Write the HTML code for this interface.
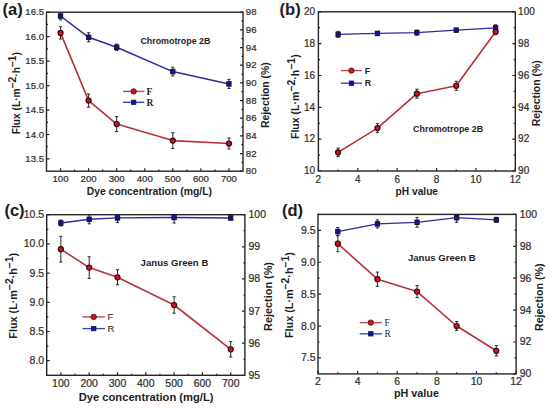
<!DOCTYPE html>
<html><head><meta charset="utf-8"><style>
html,body{margin:0;padding:0;background:#fff;}
body{width:550px;height:409px;overflow:hidden;}
svg{display:block;font-family:"Liberation Sans", sans-serif;}
</style></head><body>
<svg width="550" height="409" viewBox="0 0 550 409">
<rect width="550" height="409" fill="#fff"/>
<path d="M60.54 171.20V168.20M88.61 171.20V168.20M116.68 171.20V168.20M144.75 171.20V168.20M172.82 171.20V168.20M200.89 171.20V168.20M228.96 171.20V168.20M74.57 171.20V169.60M102.64 171.20V169.60M130.71 171.20V169.60M158.79 171.20V169.60M186.86 171.20V169.60M214.93 171.20V169.60M46.50 158.97H49.50M46.50 134.51H49.50M46.50 110.05H49.50M46.50 85.58H49.50M46.50 61.12H49.50M46.50 36.66H49.50M46.50 12.20H49.50M46.50 146.74H48.10M46.50 122.28H48.10M46.50 97.82H48.10M46.50 73.35H48.10M46.50 48.89H48.10M46.50 24.43H48.10M243.00 171.20H240.00M243.00 153.53H240.00M243.00 135.87H240.00M243.00 118.20H240.00M243.00 100.53H240.00M243.00 82.87H240.00M243.00 65.20H240.00M243.00 47.53H240.00M243.00 29.87H240.00M243.00 12.20H240.00M243.00 162.37H241.40M243.00 144.70H241.40M243.00 127.03H241.40M243.00 109.37H241.40M243.00 91.70H241.40M243.00 74.03H241.40M243.00 56.37H241.40M243.00 38.70H241.40M243.00 21.03H241.40" stroke="#262626" stroke-width="1.2" fill="none"/>
<rect x="46.50" y="12.20" width="196.50" height="159.00" fill="none" stroke="#262626" stroke-width="1.4"/>
<text x="60.54" y="182.17" font-size="9.60" text-anchor="middle" fill="#2e2e2e" stroke="#2e2e2e" stroke-width="0.22">100</text>
<text x="88.61" y="182.17" font-size="9.60" text-anchor="middle" fill="#2e2e2e" stroke="#2e2e2e" stroke-width="0.22">200</text>
<text x="116.68" y="182.17" font-size="9.60" text-anchor="middle" fill="#2e2e2e" stroke="#2e2e2e" stroke-width="0.22">300</text>
<text x="144.75" y="182.17" font-size="9.60" text-anchor="middle" fill="#2e2e2e" stroke="#2e2e2e" stroke-width="0.22">400</text>
<text x="172.82" y="182.17" font-size="9.60" text-anchor="middle" fill="#2e2e2e" stroke="#2e2e2e" stroke-width="0.22">500</text>
<text x="200.89" y="182.17" font-size="9.60" text-anchor="middle" fill="#2e2e2e" stroke="#2e2e2e" stroke-width="0.22">600</text>
<text x="228.96" y="182.17" font-size="9.60" text-anchor="middle" fill="#2e2e2e" stroke="#2e2e2e" stroke-width="0.22">700</text>
<text x="44.00" y="162.11" font-size="9.60" text-anchor="end" fill="#2e2e2e" stroke="#2e2e2e" stroke-width="0.22">13.5</text>
<text x="44.00" y="137.64" font-size="9.60" text-anchor="end" fill="#2e2e2e" stroke="#2e2e2e" stroke-width="0.22">14.0</text>
<text x="44.00" y="113.18" font-size="9.60" text-anchor="end" fill="#2e2e2e" stroke="#2e2e2e" stroke-width="0.22">14.5</text>
<text x="44.00" y="88.72" font-size="9.60" text-anchor="end" fill="#2e2e2e" stroke="#2e2e2e" stroke-width="0.22">15.0</text>
<text x="44.00" y="64.26" font-size="9.60" text-anchor="end" fill="#2e2e2e" stroke="#2e2e2e" stroke-width="0.22">15.5</text>
<text x="44.00" y="39.80" font-size="9.60" text-anchor="end" fill="#2e2e2e" stroke="#2e2e2e" stroke-width="0.22">16.0</text>
<text x="44.00" y="15.34" font-size="9.60" text-anchor="end" fill="#2e2e2e" stroke="#2e2e2e" stroke-width="0.22">16.5</text>
<text x="245.80" y="174.34" font-size="9.60" text-anchor="start" fill="#2e2e2e" stroke="#2e2e2e" stroke-width="0.22">80</text>
<text x="245.80" y="156.67" font-size="9.60" text-anchor="start" fill="#2e2e2e" stroke="#2e2e2e" stroke-width="0.22">82</text>
<text x="245.80" y="139.00" font-size="9.60" text-anchor="start" fill="#2e2e2e" stroke="#2e2e2e" stroke-width="0.22">84</text>
<text x="245.80" y="121.34" font-size="9.60" text-anchor="start" fill="#2e2e2e" stroke="#2e2e2e" stroke-width="0.22">86</text>
<text x="245.80" y="103.67" font-size="9.60" text-anchor="start" fill="#2e2e2e" stroke="#2e2e2e" stroke-width="0.22">88</text>
<text x="245.80" y="86.00" font-size="9.60" text-anchor="start" fill="#2e2e2e" stroke="#2e2e2e" stroke-width="0.22">90</text>
<text x="245.80" y="68.34" font-size="9.60" text-anchor="start" fill="#2e2e2e" stroke="#2e2e2e" stroke-width="0.22">92</text>
<text x="245.80" y="50.67" font-size="9.60" text-anchor="start" fill="#2e2e2e" stroke="#2e2e2e" stroke-width="0.22">94</text>
<text x="245.80" y="33.00" font-size="9.60" text-anchor="start" fill="#2e2e2e" stroke="#2e2e2e" stroke-width="0.22">96</text>
<text x="245.80" y="15.34" font-size="9.60" text-anchor="start" fill="#2e2e2e" stroke="#2e2e2e" stroke-width="0.22">98</text>
<clipPath id="clipa"><rect x="46.50" y="12.20" width="196.50" height="159.00"/></clipPath>
<polyline points="60.54,16.00 88.61,37.30 116.68,47.30 172.82,71.60 228.96,83.90" fill="none" stroke="#2e2a9c" stroke-width="1.50" stroke-linejoin="round"/>
<polyline points="60.54,32.90 88.61,100.60 116.68,124.10 172.82,140.60 228.96,143.50" fill="none" stroke="#b83038" stroke-width="1.60" stroke-linejoin="round"/>
<path d="M60.54 12.15V19.85M58.94 12.15H62.14M58.94 19.85H62.14M88.61 32.75V41.85M87.01 32.75H90.21M87.01 41.85H90.21M116.68 44.10V50.50M115.08 44.10H118.28M115.08 50.50H118.28M172.82 67.20V76.00M171.22 67.20H174.42M171.22 76.00H174.42M228.96 79.35V88.45M227.36 79.35H230.56M227.36 88.45H230.56" stroke="#262626" stroke-width="1" fill="none" clip-path="url(#clipa)"/>
<path d="M60.54 26.80V39.00M58.94 26.80H62.14M58.94 39.00H62.14M88.61 94.00V107.20M87.01 94.00H90.21M87.01 107.20H90.21M116.68 116.60V131.60M115.08 116.60H118.28M115.08 131.60H118.28M172.82 132.75V148.45M171.22 132.75H174.42M171.22 148.45H174.42M228.96 138.00V149.00M227.36 138.00H230.56M227.36 149.00H230.56" stroke="#262626" stroke-width="1" fill="none" clip-path="url(#clipa)"/>
<rect x="58.44" y="13.80" width="4.2" height="4.4" fill="#0a10b0" stroke="#1a1a30" stroke-width="1.1"/>
<rect x="86.51" y="35.10" width="4.2" height="4.4" fill="#0a10b0" stroke="#1a1a30" stroke-width="1.1"/>
<rect x="114.58" y="45.10" width="4.2" height="4.4" fill="#0a10b0" stroke="#1a1a30" stroke-width="1.1"/>
<rect x="170.72" y="69.40" width="4.2" height="4.4" fill="#0a10b0" stroke="#1a1a30" stroke-width="1.1"/>
<rect x="226.86" y="81.70" width="4.2" height="4.4" fill="#0a10b0" stroke="#1a1a30" stroke-width="1.1"/>
<circle cx="60.54" cy="32.90" r="2.55" fill="#d8101a" stroke="#2a0c0c" stroke-width="1.15"/>
<circle cx="88.61" cy="100.60" r="2.55" fill="#d8101a" stroke="#2a0c0c" stroke-width="1.15"/>
<circle cx="116.68" cy="124.10" r="2.55" fill="#d8101a" stroke="#2a0c0c" stroke-width="1.15"/>
<circle cx="172.82" cy="140.60" r="2.55" fill="#d8101a" stroke="#2a0c0c" stroke-width="1.15"/>
<circle cx="228.96" cy="143.50" r="2.55" fill="#d8101a" stroke="#2a0c0c" stroke-width="1.15"/>
<path d="M123.00 91.40H144.30" stroke="#c04850" stroke-width="1.4"/>
<path d="M123.00 102.30H144.30" stroke="#4040b0" stroke-width="1.4"/>
<circle cx="133.65" cy="91.40" r="2.7" fill="#d8101a" stroke="#401010" stroke-width="0.8"/>
<rect x="131.45" y="100.10" width="4.4" height="4.4" fill="#0a10b0" stroke="#1a1a40" stroke-width="0.8"/>
<text x="146.40" y="94.84" font-size="9.50" font-family='"Liberation Serif", serif' font-weight="bold" fill="#222">F</text>
<text x="146.40" y="105.73" font-size="9.50" font-family='"Liberation Serif", serif' font-weight="bold" fill="#222">R</text>
<text x="140.40" y="43.70" font-size="8.90" font-weight="bold" fill="#1e1e1e">Chromotrope 2B</text>
<text x="2.50" y="15.10" font-size="16.50" font-weight="bold" fill="#1a1a1a">(a)</text>
<text x="149.30" y="194.50" font-size="10.40" font-weight="bold" text-anchor="middle" fill="#1e1e1e">Dye concentration (mg/L)</text>
<text transform="translate(16.20 93.15) rotate(-90)" x="0" y="3.65" font-size="10.20" font-weight="bold" text-anchor="middle" fill="#1e1e1e">Flux (L·m<tspan dy="-3.80" font-size="10.20">−2</tspan><tspan dy="3.80">·h</tspan><tspan dy="-3.80" font-size="10.20">−1</tspan><tspan dy="3.80">)</tspan></text>
<text transform="translate(265.35 95.15) rotate(-90)" x="0" y="3.72" font-size="10.40" font-weight="bold" text-anchor="middle" fill="#1e1e1e">Rejection (%)</text>
<path d="M318.40 171.00V168.00M357.78 171.00V168.00M397.16 171.00V168.00M436.54 171.00V168.00M475.92 171.00V168.00M515.30 171.00V168.00M338.09 171.00V169.40M377.47 171.00V169.40M416.85 171.00V169.40M456.23 171.00V169.40M495.61 171.00V169.40M318.40 171.00H321.40M318.40 139.16H321.40M318.40 107.32H321.40M318.40 75.48H321.40M318.40 43.64H321.40M318.40 11.80H321.40M318.40 155.08H320.00M318.40 123.24H320.00M318.40 91.40H320.00M318.40 59.56H320.00M318.40 27.72H320.00M515.30 171.00H512.30M515.30 139.16H512.30M515.30 107.32H512.30M515.30 75.48H512.30M515.30 43.64H512.30M515.30 11.80H512.30M515.30 155.08H513.70M515.30 123.24H513.70M515.30 91.40H513.70M515.30 59.56H513.70M515.30 27.72H513.70" stroke="#262626" stroke-width="1.2" fill="none"/>
<rect x="318.40" y="11.80" width="196.90" height="159.20" fill="none" stroke="#262626" stroke-width="1.4"/>
<text x="318.40" y="182.66" font-size="10.00" text-anchor="middle" fill="#2e2e2e" stroke="#2e2e2e" stroke-width="0.22">2</text>
<text x="357.78" y="182.66" font-size="10.00" text-anchor="middle" fill="#2e2e2e" stroke="#2e2e2e" stroke-width="0.22">4</text>
<text x="397.16" y="182.66" font-size="10.00" text-anchor="middle" fill="#2e2e2e" stroke="#2e2e2e" stroke-width="0.22">6</text>
<text x="436.54" y="182.66" font-size="10.00" text-anchor="middle" fill="#2e2e2e" stroke="#2e2e2e" stroke-width="0.22">8</text>
<text x="475.92" y="182.66" font-size="10.00" text-anchor="middle" fill="#2e2e2e" stroke="#2e2e2e" stroke-width="0.22">10</text>
<text x="515.30" y="182.66" font-size="10.00" text-anchor="middle" fill="#2e2e2e" stroke="#2e2e2e" stroke-width="0.22">12</text>
<text x="315.00" y="174.28" font-size="10.00" text-anchor="end" fill="#2e2e2e" stroke="#2e2e2e" stroke-width="0.22">10</text>
<text x="315.00" y="142.44" font-size="10.00" text-anchor="end" fill="#2e2e2e" stroke="#2e2e2e" stroke-width="0.22">12</text>
<text x="315.00" y="110.60" font-size="10.00" text-anchor="end" fill="#2e2e2e" stroke="#2e2e2e" stroke-width="0.22">14</text>
<text x="315.00" y="78.76" font-size="10.00" text-anchor="end" fill="#2e2e2e" stroke="#2e2e2e" stroke-width="0.22">16</text>
<text x="315.00" y="46.92" font-size="10.00" text-anchor="end" fill="#2e2e2e" stroke="#2e2e2e" stroke-width="0.22">18</text>
<text x="315.00" y="15.08" font-size="10.00" text-anchor="end" fill="#2e2e2e" stroke="#2e2e2e" stroke-width="0.22">20</text>
<text x="518.10" y="174.28" font-size="10.00" text-anchor="start" fill="#2e2e2e" stroke="#2e2e2e" stroke-width="0.22">90</text>
<text x="518.10" y="142.44" font-size="10.00" text-anchor="start" fill="#2e2e2e" stroke="#2e2e2e" stroke-width="0.22">92</text>
<text x="518.10" y="110.60" font-size="10.00" text-anchor="start" fill="#2e2e2e" stroke="#2e2e2e" stroke-width="0.22">94</text>
<text x="518.10" y="78.76" font-size="10.00" text-anchor="start" fill="#2e2e2e" stroke="#2e2e2e" stroke-width="0.22">96</text>
<text x="518.10" y="46.92" font-size="10.00" text-anchor="start" fill="#2e2e2e" stroke="#2e2e2e" stroke-width="0.22">98</text>
<text x="518.10" y="15.08" font-size="10.00" text-anchor="start" fill="#2e2e2e" stroke="#2e2e2e" stroke-width="0.22">100</text>
<clipPath id="clipb"><rect x="318.40" y="11.80" width="196.90" height="159.20"/></clipPath>
<polyline points="338.09,34.40 377.47,33.40 416.85,32.60 456.23,30.10 495.61,27.80" fill="none" stroke="#2e2a9c" stroke-width="1.30" stroke-linejoin="round"/>
<polyline points="338.09,152.40 377.47,128.10 416.85,93.70 456.23,85.80 495.61,31.70" fill="none" stroke="#b83038" stroke-width="1.60" stroke-linejoin="round"/>
<path d="M338.09 31.40V37.40M336.49 31.40H339.69M336.49 37.40H339.69M377.47 31.90V34.90M375.87 31.90H379.07M375.87 34.90H379.07M416.85 30.10V35.10M415.25 30.10H418.45M415.25 35.10H418.45M456.23 28.60V31.60M454.63 28.60H457.83M454.63 31.60H457.83M495.61 24.80V30.80M494.01 24.80H497.21M494.01 30.80H497.21" stroke="#262626" stroke-width="1" fill="none" clip-path="url(#clipb)"/>
<path d="M338.09 148.15V156.65M336.49 148.15H339.69M336.49 156.65H339.69M377.47 123.60V132.60M375.87 123.60H379.07M375.87 132.60H379.07M416.85 89.20V98.20M415.25 89.20H418.45M415.25 98.20H418.45M456.23 81.30V90.30M454.63 81.30H457.83M454.63 90.30H457.83M495.61 28.70V34.70M494.01 28.70H497.21M494.01 34.70H497.21" stroke="#262626" stroke-width="1" fill="none" clip-path="url(#clipb)"/>
<rect x="335.99" y="32.20" width="4.2" height="4.4" fill="#0a10b0" stroke="#1a1a30" stroke-width="1.1"/>
<rect x="375.37" y="31.20" width="4.2" height="4.4" fill="#0a10b0" stroke="#1a1a30" stroke-width="1.1"/>
<rect x="414.75" y="30.40" width="4.2" height="4.4" fill="#0a10b0" stroke="#1a1a30" stroke-width="1.1"/>
<rect x="454.13" y="27.90" width="4.2" height="4.4" fill="#0a10b0" stroke="#1a1a30" stroke-width="1.1"/>
<rect x="493.51" y="25.60" width="4.2" height="4.4" fill="#0a10b0" stroke="#1a1a30" stroke-width="1.1"/>
<circle cx="338.09" cy="152.40" r="2.55" fill="#d8101a" stroke="#2a0c0c" stroke-width="1.15"/>
<circle cx="377.47" cy="128.10" r="2.55" fill="#d8101a" stroke="#2a0c0c" stroke-width="1.15"/>
<circle cx="416.85" cy="93.70" r="2.55" fill="#d8101a" stroke="#2a0c0c" stroke-width="1.15"/>
<circle cx="456.23" cy="85.80" r="2.55" fill="#d8101a" stroke="#2a0c0c" stroke-width="1.15"/>
<circle cx="495.61" cy="31.70" r="2.55" fill="#d8101a" stroke="#2a0c0c" stroke-width="1.15"/>
<path d="M340.90 70.60H362.00" stroke="#c04850" stroke-width="1.4"/>
<path d="M340.90 83.20H362.00" stroke="#4040b0" stroke-width="1.4"/>
<circle cx="351.45" cy="70.60" r="2.7" fill="#d8101a" stroke="#401010" stroke-width="0.8"/>
<rect x="349.25" y="81.00" width="4.4" height="4.4" fill="#0a10b0" stroke="#1a1a40" stroke-width="0.8"/>
<text x="364.80" y="73.87" font-size="9.00" font-family='"Liberation Sans", sans-serif' font-weight="bold" fill="#222">F</text>
<text x="364.80" y="86.47" font-size="9.00" font-family='"Liberation Sans", sans-serif' font-weight="bold" fill="#222">R</text>
<text x="413.10" y="132.30" font-size="8.90" font-weight="bold" fill="#1e1e1e">Chromotrope 2B</text>
<text x="279.60" y="15.00" font-size="16.50" font-weight="bold" fill="#1a1a1a">(b)</text>
<text x="416.80" y="194.70" font-size="10.20" font-weight="bold" text-anchor="middle" fill="#1e1e1e">pH value</text>
<text transform="translate(295.10 96.65) rotate(-90)" x="0" y="3.76" font-size="10.50" font-weight="bold" text-anchor="middle" fill="#1e1e1e">Flux (L·m<tspan dy="-3.80" font-size="10.50">−2</tspan><tspan dy="3.80">·h</tspan><tspan dy="-3.80" font-size="10.50">−1</tspan><tspan dy="3.80">)</tspan></text>
<text transform="translate(536.65 93.30) rotate(-90)" x="0" y="3.72" font-size="10.40" font-weight="bold" text-anchor="middle" fill="#1e1e1e">Rejection (%)</text>
<path d="M60.86 375.30V372.30M89.17 375.30V372.30M117.49 375.30V372.30M145.80 375.30V372.30M174.11 375.30V372.30M202.43 375.30V372.30M230.74 375.30V372.30M75.01 375.30V373.70M103.33 375.30V373.70M131.64 375.30V373.70M159.96 375.30V373.70M188.27 375.30V373.70M216.59 375.30V373.70M46.70 360.70H49.70M46.70 331.50H49.70M46.70 302.30H49.70M46.70 273.10H49.70M46.70 243.90H49.70M46.70 214.70H49.70M46.70 346.10H48.30M46.70 316.90H48.30M46.70 287.70H48.30M46.70 258.50H48.30M46.70 229.30H48.30M244.90 375.30H241.90M244.90 343.18H241.90M244.90 311.06H241.90M244.90 278.94H241.90M244.90 246.82H241.90M244.90 214.70H241.90M244.90 359.24H243.30M244.90 327.12H243.30M244.90 295.00H243.30M244.90 262.88H243.30M244.90 230.76H243.30" stroke="#262626" stroke-width="1.2" fill="none"/>
<rect x="46.70" y="214.70" width="198.20" height="160.60" fill="none" stroke="#262626" stroke-width="1.4"/>
<text x="60.86" y="386.72" font-size="10.50" text-anchor="middle" fill="#2e2e2e" stroke="#2e2e2e" stroke-width="0.22">100</text>
<text x="89.17" y="386.72" font-size="10.50" text-anchor="middle" fill="#2e2e2e" stroke="#2e2e2e" stroke-width="0.22">200</text>
<text x="117.49" y="386.72" font-size="10.50" text-anchor="middle" fill="#2e2e2e" stroke="#2e2e2e" stroke-width="0.22">300</text>
<text x="145.80" y="386.72" font-size="10.50" text-anchor="middle" fill="#2e2e2e" stroke="#2e2e2e" stroke-width="0.22">400</text>
<text x="174.11" y="386.72" font-size="10.50" text-anchor="middle" fill="#2e2e2e" stroke="#2e2e2e" stroke-width="0.22">500</text>
<text x="202.43" y="386.72" font-size="10.50" text-anchor="middle" fill="#2e2e2e" stroke="#2e2e2e" stroke-width="0.22">600</text>
<text x="230.74" y="386.72" font-size="10.50" text-anchor="middle" fill="#2e2e2e" stroke="#2e2e2e" stroke-width="0.22">700</text>
<text x="44.20" y="364.16" font-size="10.50" text-anchor="end" fill="#2e2e2e" stroke="#2e2e2e" stroke-width="0.22">8.0</text>
<text x="44.20" y="334.96" font-size="10.50" text-anchor="end" fill="#2e2e2e" stroke="#2e2e2e" stroke-width="0.22">8.5</text>
<text x="44.20" y="305.76" font-size="10.50" text-anchor="end" fill="#2e2e2e" stroke="#2e2e2e" stroke-width="0.22">9.0</text>
<text x="44.20" y="276.56" font-size="10.50" text-anchor="end" fill="#2e2e2e" stroke="#2e2e2e" stroke-width="0.22">9.5</text>
<text x="44.20" y="247.36" font-size="10.50" text-anchor="end" fill="#2e2e2e" stroke="#2e2e2e" stroke-width="0.22">10.0</text>
<text x="44.20" y="218.16" font-size="10.50" text-anchor="end" fill="#2e2e2e" stroke="#2e2e2e" stroke-width="0.22">10.5</text>
<text x="248.50" y="378.76" font-size="10.50" text-anchor="start" fill="#2e2e2e" stroke="#2e2e2e" stroke-width="0.22">95</text>
<text x="248.50" y="346.64" font-size="10.50" text-anchor="start" fill="#2e2e2e" stroke="#2e2e2e" stroke-width="0.22">96</text>
<text x="248.50" y="314.52" font-size="10.50" text-anchor="start" fill="#2e2e2e" stroke="#2e2e2e" stroke-width="0.22">97</text>
<text x="248.50" y="282.40" font-size="10.50" text-anchor="start" fill="#2e2e2e" stroke="#2e2e2e" stroke-width="0.22">98</text>
<text x="248.50" y="250.28" font-size="10.50" text-anchor="start" fill="#2e2e2e" stroke="#2e2e2e" stroke-width="0.22">99</text>
<text x="248.50" y="218.16" font-size="10.50" text-anchor="start" fill="#2e2e2e" stroke="#2e2e2e" stroke-width="0.22">100</text>
<clipPath id="clipc"><rect x="46.70" y="214.70" width="198.20" height="160.60"/></clipPath>
<polyline points="60.86,223.00 89.17,219.30 117.49,217.90 174.11,217.50 230.74,218.00" fill="none" stroke="#2e2a9c" stroke-width="1.40" stroke-linejoin="round"/>
<polyline points="60.86,249.20 89.17,267.60 117.49,277.30 174.11,305.00 230.74,349.30" fill="none" stroke="#b83038" stroke-width="1.60" stroke-linejoin="round"/>
<path d="M60.86 220.00V226.00M59.26 220.00H62.46M59.26 226.00H62.46M89.17 214.80V223.80M87.57 214.80H90.77M87.57 223.80H90.77M117.49 213.40V222.40M115.89 213.40H119.09M115.89 222.40H119.09M174.11 212.00V223.00M172.51 212.00H175.71M172.51 223.00H175.71M230.74 216.00V220.00M229.14 216.00H232.34M229.14 220.00H232.34" stroke="#262626" stroke-width="1" fill="none" clip-path="url(#clipc)"/>
<path d="M60.86 236.35V262.05M59.26 236.35H62.46M59.26 262.05H62.46M89.17 256.80V278.40M87.57 256.80H90.77M87.57 278.40H90.77M117.49 269.75V284.85M115.89 269.75H119.09M115.89 284.85H119.09M174.11 296.80V313.20M172.51 296.80H175.71M172.51 313.20H175.71M230.74 341.60V357.00M229.14 341.60H232.34M229.14 357.00H232.34" stroke="#262626" stroke-width="1" fill="none" clip-path="url(#clipc)"/>
<rect x="58.76" y="220.80" width="4.2" height="4.4" fill="#0a10b0" stroke="#1a1a30" stroke-width="1.1"/>
<rect x="87.07" y="217.10" width="4.2" height="4.4" fill="#0a10b0" stroke="#1a1a30" stroke-width="1.1"/>
<rect x="115.39" y="215.70" width="4.2" height="4.4" fill="#0a10b0" stroke="#1a1a30" stroke-width="1.1"/>
<rect x="172.01" y="215.30" width="4.2" height="4.4" fill="#0a10b0" stroke="#1a1a30" stroke-width="1.1"/>
<rect x="228.64" y="215.80" width="4.2" height="4.4" fill="#0a10b0" stroke="#1a1a30" stroke-width="1.1"/>
<circle cx="60.86" cy="249.20" r="2.55" fill="#d8101a" stroke="#2a0c0c" stroke-width="1.15"/>
<circle cx="89.17" cy="267.60" r="2.55" fill="#d8101a" stroke="#2a0c0c" stroke-width="1.15"/>
<circle cx="117.49" cy="277.30" r="2.55" fill="#d8101a" stroke="#2a0c0c" stroke-width="1.15"/>
<circle cx="174.11" cy="305.00" r="2.55" fill="#d8101a" stroke="#2a0c0c" stroke-width="1.15"/>
<circle cx="230.74" cy="349.30" r="2.55" fill="#d8101a" stroke="#2a0c0c" stroke-width="1.15"/>
<path d="M82.50 316.90H104.90" stroke="#c04850" stroke-width="1.4"/>
<path d="M82.50 328.60H104.90" stroke="#4040b0" stroke-width="1.4"/>
<circle cx="93.70" cy="316.90" r="2.7" fill="#d8101a" stroke="#401010" stroke-width="0.8"/>
<rect x="91.50" y="326.40" width="4.4" height="4.4" fill="#0a10b0" stroke="#1a1a40" stroke-width="0.8"/>
<text x="107.60" y="320.33" font-size="9.50" font-family='"Liberation Sans", sans-serif' font-weight="normal" fill="#222">F</text>
<text x="107.60" y="332.04" font-size="9.50" font-family='"Liberation Sans", sans-serif' font-weight="normal" fill="#222">R</text>
<text x="140.60" y="265.90" font-size="9.60" font-weight="bold" fill="#1e1e1e">Janus Green B</text>
<text x="4.40" y="216.00" font-size="16.50" font-weight="bold" fill="#1a1a1a">(c)</text>
<text x="146.10" y="400.60" font-size="11.20" font-weight="bold" text-anchor="middle" fill="#1e1e1e">Dye concentration (mg/L)</text>
<text transform="translate(13.30 295.75) rotate(-90)" x="0" y="3.87" font-size="10.80" font-weight="bold" text-anchor="middle" fill="#1e1e1e">Flux (L·m<tspan dy="-3.80" font-size="10.26">−2</tspan><tspan dy="3.80">·h</tspan><tspan dy="-3.80" font-size="10.26">−1</tspan><tspan dy="3.80">)</tspan></text>
<text transform="translate(268.30 296.50) rotate(-90)" x="0" y="3.90" font-size="10.90" font-weight="bold" text-anchor="middle" fill="#1e1e1e">Rejection (%)</text>
<path d="M318.00 373.90V370.90M357.62 373.90V370.90M397.24 373.90V370.90M436.86 373.90V370.90M476.48 373.90V370.90M516.10 373.90V370.90M337.81 373.90V372.30M377.43 373.90V372.30M417.05 373.90V372.30M456.67 373.90V372.30M496.29 373.90V372.30M318.00 357.95H321.00M318.00 326.05H321.00M318.00 294.15H321.00M318.00 262.25H321.00M318.00 230.35H321.00M318.00 342.00H319.60M318.00 310.10H319.60M318.00 278.20H319.60M318.00 246.30H319.60M318.00 214.40H319.60M516.10 373.90H513.10M516.10 342.00H513.10M516.10 310.10H513.10M516.10 278.20H513.10M516.10 246.30H513.10M516.10 214.40H513.10M516.10 357.95H514.50M516.10 326.05H514.50M516.10 294.15H514.50M516.10 262.25H514.50M516.10 230.35H514.50" stroke="#262626" stroke-width="1.2" fill="none"/>
<rect x="318.00" y="214.40" width="198.10" height="159.50" fill="none" stroke="#262626" stroke-width="1.4"/>
<text x="318.00" y="384.92" font-size="10.50" text-anchor="middle" fill="#2e2e2e" stroke="#2e2e2e" stroke-width="0.22">2</text>
<text x="357.62" y="384.92" font-size="10.50" text-anchor="middle" fill="#2e2e2e" stroke="#2e2e2e" stroke-width="0.22">4</text>
<text x="397.24" y="384.92" font-size="10.50" text-anchor="middle" fill="#2e2e2e" stroke="#2e2e2e" stroke-width="0.22">6</text>
<text x="436.86" y="384.92" font-size="10.50" text-anchor="middle" fill="#2e2e2e" stroke="#2e2e2e" stroke-width="0.22">8</text>
<text x="476.48" y="384.92" font-size="10.50" text-anchor="middle" fill="#2e2e2e" stroke="#2e2e2e" stroke-width="0.22">10</text>
<text x="516.10" y="384.92" font-size="10.50" text-anchor="middle" fill="#2e2e2e" stroke="#2e2e2e" stroke-width="0.22">12</text>
<text x="315.50" y="361.41" font-size="10.50" text-anchor="end" fill="#2e2e2e" stroke="#2e2e2e" stroke-width="0.22">7.5</text>
<text x="315.50" y="329.51" font-size="10.50" text-anchor="end" fill="#2e2e2e" stroke="#2e2e2e" stroke-width="0.22">8.0</text>
<text x="315.50" y="297.61" font-size="10.50" text-anchor="end" fill="#2e2e2e" stroke="#2e2e2e" stroke-width="0.22">8.5</text>
<text x="315.50" y="265.71" font-size="10.50" text-anchor="end" fill="#2e2e2e" stroke="#2e2e2e" stroke-width="0.22">9.0</text>
<text x="315.50" y="233.81" font-size="10.50" text-anchor="end" fill="#2e2e2e" stroke="#2e2e2e" stroke-width="0.22">9.5</text>
<text x="519.70" y="377.36" font-size="10.50" text-anchor="start" fill="#2e2e2e" stroke="#2e2e2e" stroke-width="0.22">90</text>
<text x="519.70" y="345.46" font-size="10.50" text-anchor="start" fill="#2e2e2e" stroke="#2e2e2e" stroke-width="0.22">92</text>
<text x="519.70" y="313.56" font-size="10.50" text-anchor="start" fill="#2e2e2e" stroke="#2e2e2e" stroke-width="0.22">94</text>
<text x="519.70" y="281.66" font-size="10.50" text-anchor="start" fill="#2e2e2e" stroke="#2e2e2e" stroke-width="0.22">96</text>
<text x="519.70" y="249.76" font-size="10.50" text-anchor="start" fill="#2e2e2e" stroke="#2e2e2e" stroke-width="0.22">98</text>
<text x="519.70" y="217.86" font-size="10.50" text-anchor="start" fill="#2e2e2e" stroke="#2e2e2e" stroke-width="0.22">100</text>
<clipPath id="clipd"><rect x="318.00" y="214.40" width="198.10" height="159.50"/></clipPath>
<polyline points="337.81,231.60 377.43,223.90 417.05,222.30 456.67,217.70 496.29,219.80" fill="none" stroke="#2e2a9c" stroke-width="1.30" stroke-linejoin="round"/>
<polyline points="337.81,243.70 377.43,279.20 417.05,291.60 456.67,326.00 496.29,350.80" fill="none" stroke="#b83038" stroke-width="1.60" stroke-linejoin="round"/>
<path d="M337.81 227.60V235.60M336.21 227.60H339.41M336.21 235.60H339.41M377.43 219.90V227.90M375.83 219.90H379.03M375.83 227.90H379.03M417.05 217.40V227.20M415.45 217.40H418.65M415.45 227.20H418.65M456.67 213.10V222.30M455.07 213.10H458.27M455.07 222.30H458.27M496.29 217.30V222.30M494.69 217.30H497.89M494.69 222.30H497.89" stroke="#262626" stroke-width="1" fill="none" clip-path="url(#clipd)"/>
<path d="M337.81 235.70V251.70M336.21 235.70H339.41M336.21 251.70H339.41M377.43 272.10V286.30M375.83 272.10H379.03M375.83 286.30H379.03M417.05 285.60V297.60M415.45 285.60H418.65M415.45 297.60H418.65M456.67 321.60V330.40M455.07 321.60H458.27M455.07 330.40H458.27M496.29 345.65V355.95M494.69 345.65H497.89M494.69 355.95H497.89" stroke="#262626" stroke-width="1" fill="none" clip-path="url(#clipd)"/>
<rect x="335.71" y="229.40" width="4.2" height="4.4" fill="#0a10b0" stroke="#1a1a30" stroke-width="1.1"/>
<rect x="375.33" y="221.70" width="4.2" height="4.4" fill="#0a10b0" stroke="#1a1a30" stroke-width="1.1"/>
<rect x="414.95" y="220.10" width="4.2" height="4.4" fill="#0a10b0" stroke="#1a1a30" stroke-width="1.1"/>
<rect x="454.57" y="215.50" width="4.2" height="4.4" fill="#0a10b0" stroke="#1a1a30" stroke-width="1.1"/>
<rect x="494.19" y="217.60" width="4.2" height="4.4" fill="#0a10b0" stroke="#1a1a30" stroke-width="1.1"/>
<circle cx="337.81" cy="243.70" r="2.55" fill="#d8101a" stroke="#2a0c0c" stroke-width="1.15"/>
<circle cx="377.43" cy="279.20" r="2.55" fill="#d8101a" stroke="#2a0c0c" stroke-width="1.15"/>
<circle cx="417.05" cy="291.60" r="2.55" fill="#d8101a" stroke="#2a0c0c" stroke-width="1.15"/>
<circle cx="456.67" cy="326.00" r="2.55" fill="#d8101a" stroke="#2a0c0c" stroke-width="1.15"/>
<circle cx="496.29" cy="350.80" r="2.55" fill="#d8101a" stroke="#2a0c0c" stroke-width="1.15"/>
<path d="M359.70 322.60H381.90" stroke="#c04850" stroke-width="1.4"/>
<path d="M359.70 333.80H381.90" stroke="#4040b0" stroke-width="1.4"/>
<circle cx="370.80" cy="322.60" r="2.7" fill="#d8101a" stroke="#401010" stroke-width="0.8"/>
<rect x="368.60" y="331.60" width="4.4" height="4.4" fill="#0a10b0" stroke="#1a1a40" stroke-width="0.8"/>
<text x="384.50" y="326.04" font-size="9.50" font-family='"Liberation Serif", serif' font-weight="normal" fill="#222">F</text>
<text x="384.50" y="337.24" font-size="9.50" font-family='"Liberation Serif", serif' font-weight="normal" fill="#222">R</text>
<text x="407.90" y="260.90" font-size="9.60" font-weight="bold" fill="#1e1e1e">Janus Green B</text>
<text x="282.00" y="215.60" font-size="16.50" font-weight="bold" fill="#1a1a1a">(d)</text>
<text x="416.40" y="397.00" font-size="10.80" font-weight="bold" text-anchor="middle" fill="#1e1e1e">pH value</text>
<text transform="translate(288.90 295.10) rotate(-90)" x="0" y="3.87" font-size="10.80" font-weight="bold" text-anchor="middle" fill="#1e1e1e">Flux (L·m<tspan dy="-3.80" font-size="10.26">−2</tspan><tspan dy="3.80">·h</tspan><tspan dy="-3.80" font-size="10.26">−1</tspan><tspan dy="3.80">)</tspan></text>
<text transform="translate(539.50 297.20) rotate(-90)" x="0" y="3.83" font-size="10.70" font-weight="bold" text-anchor="middle" fill="#1e1e1e">Rejection (%)</text>
</svg></body></html>
